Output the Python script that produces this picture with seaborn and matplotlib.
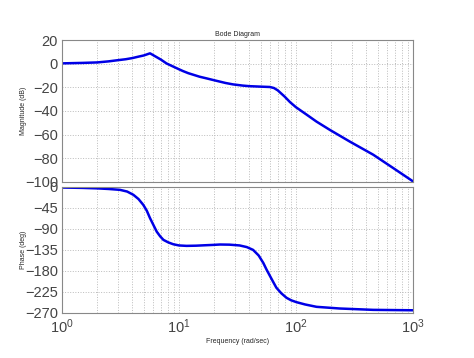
import numpy as np
import pandas as pd
import matplotlib
matplotlib.use("Agg")
import matplotlib.pyplot as plt
import seaborn as sns

# Magnitude curve (rad/sec, dB)
mag_freq = [1, 1.5, 2, 2.5, 3, 3.5, 4, 4.5, 5, 5.65, 6.2, 7, 7.8, 9, 10, 10.8, 12, 15, 17.2,
            20, 25, 29, 35, 40, 50, 60, 65, 70, 80, 89, 100, 123, 150, 195, 290, 458, 679, 1000]
magnitude = [0.3, 0.7, 1.1, 2.0, 3.0, 3.8, 4.8, 6.0, 7.0, 8.8, 6.5, 3.5, 0.3, -2.6, -4.7, -6.2,
             -8.0, -11.0, -12.4, -14.0, -16.3, -17.5, -18.5, -19.0, -19.4, -19.7, -20.6, -22.6,
             -27.8, -32.5, -36.8, -43.0, -49.0, -56.0, -66.0, -77.0, -88.3, -99.5]

# Phase curve (rad/sec, deg)
ph_freq = [1, 1.5, 2, 2.5, 3.13, 3.6, 4.07, 4.5, 4.95, 5.3, 5.65, 6.05, 6.45, 6.9, 7.36, 8.1,
           8.95, 10, 11.6, 14, 17, 19.7, 22.4, 27, 33, 38, 43, 48, 52.6, 56, 60, 64, 68, 75,
           83, 91, 101, 120, 150, 237, 458, 1000]
phase = [-1.4, -2.2, -3.2, -4.5, -6.4, -10, -17, -26, -38.6, -51, -67, -82, -96, -106,
         -113.6, -119, -123, -125.5, -126.4, -126, -125, -124.3, -123.5, -123.8, -125.5, -129,
         -135, -147, -163, -177, -191, -204, -216, -228, -237.6, -243, -247, -252, -257,
         -260.6, -263.5, -264.4]

mag_ticks = [20, 0, -20, -40, -60, -80, -100]
phase_ticks = [0, -45, -90, -135, -180, -225, -270]

mag_df = pd.DataFrame({"freq": mag_freq, "mag": magnitude})
ph_df = pd.DataFrame({"freq": ph_freq, "phase": phase})

sns.set_style("white")
plt.rcParams["font.family"] = ["Liberation Sans", "DejaVu Sans"]
plt.rcParams["mathtext.fontset"] = "custom"
plt.rcParams["mathtext.rm"] = "Liberation Sans"

fig = plt.figure(figsize=(4.74, 3.58), dpi=100)
ax1 = fig.add_axes([0.131, 0.492, 0.740, 0.396])
ax2 = fig.add_axes([0.131, 0.126, 0.740, 0.352])

line_kw = dict(color="#0000e6", linewidth=1.8, sort=False)
sns.lineplot(data=mag_df, x="freq", y="mag", ax=ax1, **line_kw)
sns.lineplot(data=ph_df, x="freq", y="phase", ax=ax2, **line_kw)

for ax in (ax1, ax2):
    ax.set_xscale("log")
    ax.set_xlim(1, 1000)
    ax.grid(True, which="both", linestyle=":", color="#bbbbbb", linewidth=0.7)
    for s in ax.spines.values():
        s.set_color("#888888")
        s.set_linewidth(0.8)
    ax.tick_params(labelsize=10.5, colors="#444444", length=0, pad=3)
    ax.set_xlabel("")
    for ln in ax.get_lines():
        ln.set_solid_joinstyle("round")
        ln.set_solid_capstyle("round")

ax1.set_ylim(-100, 20)
ax1.set_yticks(mag_ticks)
ax1.tick_params(axis="x", which="both", labelbottom=False)
ax1.set_ylabel("Magnitude (dB)", fontsize=5)
ax1.yaxis.set_label_coords(-0.1, 0.5)
ax1.set_title("Bode Diagram", fontsize=5, pad=3)

ax2.set_ylim(-270, 0)
ax2.set_yticks(phase_ticks)
ax2.set_ylabel("Phase (deg)", fontsize=5)
ax2.yaxis.set_label_coords(-0.1, 0.5)
ax2.set_xlabel("Frequency (rad/sec)", fontsize=5, labelpad=2)

fig.savefig("out.png", dpi=100)
